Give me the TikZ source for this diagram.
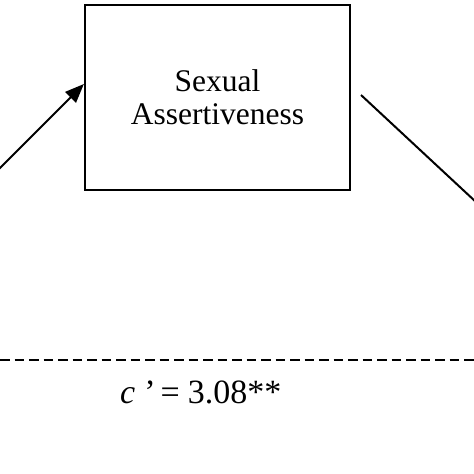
\documentclass[tikz,border=0pt]{standalone}
\usepackage{fontspec}
\setmainfont{Liberation Serif}
\usetikzlibrary{arrows.meta}
\begin{document}
\begin{tikzpicture}[x=1pt,y=-1pt,
  boxstyle/.style={draw=black,line width=2.2pt,minimum width=265pt,minimum height=185pt,align=center,inner sep=0pt,
    font=\fontsize{31.5}{33}\selectfont},
  pathline/.style={line width=2pt,black},
  labelstyle/.style={font=\fontsize{34}{36}\selectfont,inner sep=0pt,anchor=base west}]
\useasboundingbox (0,0) rectangle (474,474);
\node[boxstyle] (box) at (217.5,97.5) {Sexual\\Assertiveness};
\coordinate (lstart) at (-2,170);
\coordinate (rstart) at (361,95);
\coordinate (rend) at (476,202);
\coordinate (dl) at (0,360);
\coordinate (dr) at (474,360);
\draw[pathline,-{Triangle[length=19pt,width=15pt]}] (lstart) -- (box.west |- 0,84);
\draw[pathline] (rstart) -- (rend);
\draw[line width=1.8pt,dash pattern=on 9.5pt off 5pt] (dl) -- (dr);
\node[labelstyle] (cval) at (120,403) {\textit{c}\hspace{9pt}’\hspace{5pt}=\hspace{8pt}3.08**};
\end{tikzpicture}
\end{document}
